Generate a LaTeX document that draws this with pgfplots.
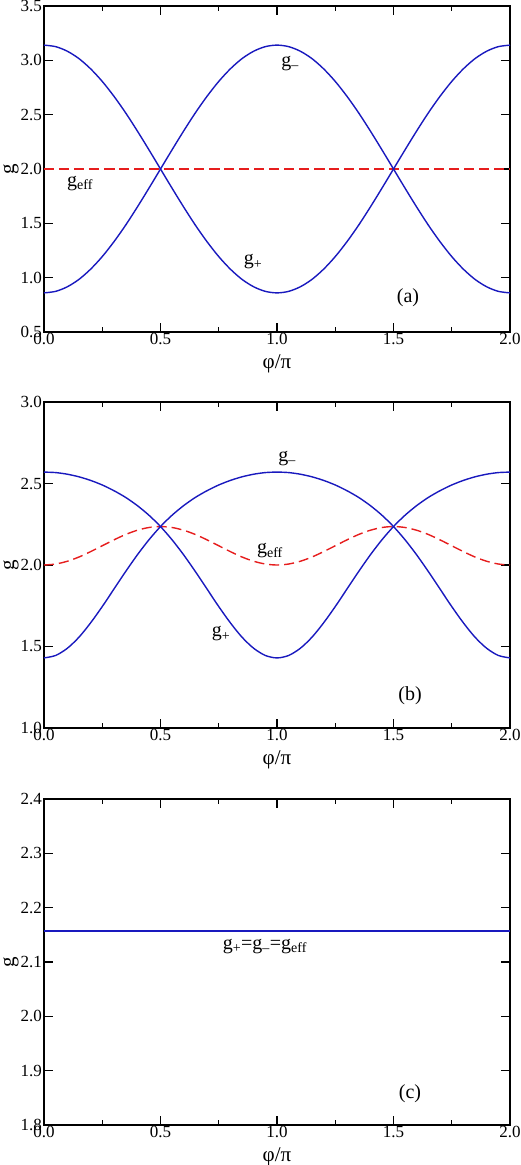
\documentclass[border=0pt]{standalone}
\usepackage{pgfplots}
\pgfplotsset{compat=1.18}
\usepackage{pgfplotstable}
\usepackage{fontspec}
\setmainfont{Liberation Serif}

\definecolor{gblue}{RGB}{25,25,190}
\definecolor{gred}{RGB}{230,30,30}

% panel (a): x, g_up (starts high), g_dn, g_eff
\pgfplotstableread{
x    gu     gd     ge
0.00 3.140  0.860  2.0
0.05 3.126  0.874  2.0
0.10 3.084  0.916  2.0
0.15 3.016  0.984  2.0
0.20 2.922  1.078  2.0
0.25 2.806  1.194  2.0
0.30 2.670  1.330  2.0
0.35 2.518  1.482  2.0
0.40 2.352  1.648  2.0
0.45 2.178  1.822  2.0
0.50 2.000  2.000  2.0
0.55 1.822  2.178  2.0
0.60 1.648  2.352  2.0
0.65 1.482  2.518  2.0
0.70 1.330  2.670  2.0
0.75 1.194  2.806  2.0
0.80 1.078  2.922  2.0
0.85 0.984  3.016  2.0
0.90 0.916  3.084  2.0
0.95 0.874  3.126  2.0
1.00 0.860  3.140  2.0
1.05 0.874  3.126  2.0
1.10 0.916  3.084  2.0
1.15 0.984  3.016  2.0
1.20 1.078  2.922  2.0
1.25 1.194  2.806  2.0
1.30 1.330  2.670  2.0
1.35 1.482  2.518  2.0
1.40 1.648  2.352  2.0
1.45 1.822  2.178  2.0
1.50 2.000  2.000  2.0
1.55 2.178  1.822  2.0
1.60 2.352  1.648  2.0
1.65 2.518  1.482  2.0
1.70 2.670  1.330  2.0
1.75 2.806  1.194  2.0
1.80 2.922  1.078  2.0
1.85 3.016  0.984  2.0
1.90 3.084  0.916  2.0
1.95 3.126  0.874  2.0
2.00 3.140  0.860  2.0
}\tabA

% panel (b)
\pgfplotstableread{
x    gu     gd     ge
0.00 2.570  1.430  2.000
0.05 2.567  1.445  2.006
0.10 2.557  1.489  2.023
0.15 2.541  1.557  2.049
0.20 2.519  1.645  2.082
0.25 2.491  1.745  2.118
0.30 2.456  1.852  2.154
0.35 2.415  1.959  2.187
0.40 2.365  2.061  2.213
0.45 2.306  2.154  2.230
0.50 2.236  2.236  2.236
0.55 2.154  2.306  2.230
0.60 2.061  2.365  2.213
0.65 1.959  2.415  2.187
0.70 1.852  2.456  2.154
0.75 1.745  2.491  2.118
0.80 1.645  2.519  2.082
0.85 1.557  2.541  2.049
0.90 1.489  2.557  2.023
0.95 1.445  2.567  2.006
1.00 1.430  2.570  2.000
1.05 1.445  2.567  2.006
1.10 1.489  2.557  2.023
1.15 1.557  2.541  2.049
1.20 1.645  2.519  2.082
1.25 1.745  2.491  2.118
1.30 1.852  2.456  2.154
1.35 1.959  2.415  2.187
1.40 2.061  2.365  2.213
1.45 2.154  2.306  2.230
1.50 2.236  2.236  2.236
1.55 2.306  2.154  2.230
1.60 2.365  2.061  2.213
1.65 2.415  1.959  2.187
1.70 2.456  1.852  2.154
1.75 2.491  1.745  2.118
1.80 2.519  1.645  2.082
1.85 2.541  1.557  2.049
1.90 2.557  1.489  2.023
1.95 2.567  1.445  2.006
2.00 2.570  1.430  2.000
}\tabB

% panel (c)
\pgfplotstableread{
x    g
0.0  2.157
2.0  2.157
}\tabC

\tikzset{lab/.style={font=\fontsize{20}{20}\selectfont, inner sep=0pt}}

\pgfplotsset{
  panel/.style={
    width=466pt, height=326pt, scale only axis,
    anchor=south west,
    xmin=0, xmax=2,
    xtick={0,0.5,1,1.5,2}, minor x tick num=1,
    tick align=inside,
    major tick length=9pt, minor tick length=5pt,
    every tick/.style={black, line width=1.2pt},
    axis line style={line width=1.4pt},
    tick label style={font=\fontsize{17}{17}\selectfont},
    xticklabel style={inner sep=1pt, /pgf/number format/.cd, fixed, fixed zerofill, precision=1},
    yticklabel style={inner sep=2pt, /pgf/number format/.cd, fixed, fixed zerofill, precision=1},
    /pgf/number format/assume math mode=true,
    xlabel={φ/π}, ylabel={g},
    label style={font=\fontsize{21}{21}\selectfont},
    x label style={at={(axis description cs:0.5,0)}, anchor=center, yshift=-32pt},
    y label style={at={(axis description cs:0,0.5)}, anchor=center, yshift=33pt},
  },
  bl/.style={gblue, line width=1.4pt, smooth},
  rd/.style={gred, line width=1.4pt, smooth, dash pattern=on 10pt off 5pt},
}

\begin{document}
\begin{tikzpicture}
% (a)
\begin{axis}[panel, at={(0pt,0pt)}, ymin=0.5, ymax=3.5, ytick={0.5,1,...,3.5}]
  \addplot[rd] table[x=x, y=ge] {\tabA};
  \addplot[bl] table[x=x, y=gu] {\tabA};
  \addplot[bl] table[x=x, y=gd] {\tabA};
  \node[lab] at (axis cs:1.056,2.97) {g\textsubscript{–}};
  \node[lab] at (axis cs:0.155,1.87) {g\textsubscript{eff}};
  \node[lab] at (axis cs:0.897,1.144) {g\textsubscript{+}};
  \node[lab] at (axis cs:1.562,0.813) {(a)};
\end{axis}
% (b)
\begin{axis}[panel, at={(0pt,-396pt)}, ymin=1, ymax=3, ytick={1,1.5,...,3}]
  \addplot[rd] table[x=x, y=ge] {\tabB};
  \addplot[bl] table[x=x, y=gu] {\tabB};
  \addplot[bl] table[x=x, y=gd] {\tabB};
  \node[lab] at (axis cs:1.043,2.656) {g\textsubscript{–}};
  \node[lab] at (axis cs:0.970,2.086) {g\textsubscript{eff}};
  \node[lab] at (axis cs:0.760,1.577) {g\textsubscript{+}};
  \node[lab] at (axis cs:1.571,1.20) {(b)};
\end{axis}
% (c)
\begin{axis}[panel, at={(0pt,-793pt)}, ymin=1.8, ymax=2.4,
    ytick={1.8,1.9,2.0,2.1,2.2,2.3,2.4}]
  \addplot[gblue, line width=1.4pt] table[x=x, y=g] {\tabC};
  \node[lab] at (axis cs:0.948,2.129) {g\textsubscript{+}=g\textsubscript{–}=g\textsubscript{eff}};
  \node[lab] at (axis cs:1.571,1.857) {(c)};
\end{axis}
\pgfresetboundingbox
\path[use as bounding box] (-44pt,-833pt) rectangle (476pt,332pt);
\end{tikzpicture}
\end{document}
